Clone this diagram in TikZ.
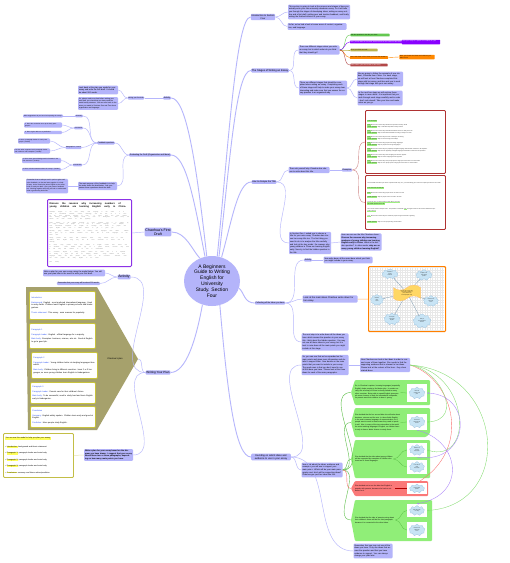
\documentclass[tikz,border=0pt]{standalone}
\usepackage{fontspec}
\setmainfont{Liberation Sans}
\usepackage{tikz}
\usetikzlibrary{positioning}
\usetikzlibrary{arrows.meta, shapes.geometric, shapes.symbols}
\setlength{\parindent}{0pt}
\definecolor{lav}{RGB}{180,180,250}
\definecolor{lavline}{RGB}{182,182,252}
\definecolor{stgreen}{RGB}{100,200,80}
\definecolor{stpurple}{RGB}{136,0,255}
\definecolor{stolive}{RGB}{185,180,80}
\definecolor{storange}{RGB}{255,136,0}
\definecolor{stred}{RGB}{178,72,72}
\definecolor{callgreen}{RGB}{144,238,120}
\definecolor{callline}{RGB}{90,190,70}
\definecolor{callred}{RGB}{250,120,120}
\definecolor{olivebg}{RGB}{166,161,108}
\definecolor{olivebd}{RGB}{200,195,60}
\definecolor{redbd}{RGB}{175,50,50}
\definecolor{purplebd}{RGB}{140,50,230}
\definecolor{orangebd}{RGB}{255,128,0}
\definecolor{yellowbd}{RGB}{195,190,70}
\definecolor{hlgreen}{RGB}{160,240,130}
\definecolor{hlyellow}{RGB}{255,255,90}
\definecolor{cloudfill}{RGB}{200,228,245}
\definecolor{cloudline}{RGB}{150,190,220}
\definecolor{blobyellow}{RGB}{255,215,100}
\definecolor{gridgrey}{RGB}{232,232,232}
\definecolor{plantext}{RGB}{40,80,240}
\definecolor{essaygrey}{RGB}{110,110,110}
\definecolor{relred}{RGB}{250,110,110}
\definecolor{relgreen}{RGB}{130,220,110}
\definecolor{relpurple}{RGB}{170,130,250}
\newcommand\mmmicro{\fontsize{1.1}{1.4}\selectfont}
\newcommand\mmtiny{\fontsize{1.5}{2}\selectfont}
\newcommand\mmsmall{\fontsize{2}{2.7}\selectfont}
\newcommand\mmmid{\fontsize{2.6}{3.2}\selectfont}
\newcommand\mmbig{\fontsize{3.6}{4.3}\selectfont}
\newcommand\mmroot{\fontsize{5}{5.9}\selectfont}
\newcommand\hlg[1]{{\setlength{\fboxsep}{0.25pt}\colorbox{hlgreen}{#1}}}
\newcommand\hly[1]{{\setlength{\fboxsep}{0.25pt}\colorbox{hlyellow}{#1}}}
\newcommand\plabel[1]{{\color{plantext}#1}}
\tikzset{
  topic/.style={fill=lav, rounded corners=1pt, inner sep=0.8pt, align=center, font=\mmsmall},
  leaf/.style={topic, align=left, inner sep=1pt},
  rootnode/.style={ellipse, fill=lav, minimum width=56pt, minimum height=50pt, inner sep=0pt, align=center, font=\mmroot},
  rootlink/.style={draw=lavline, line width=0.9pt},
  sublink/.style={draw=lavline, line width=0.45pt},
  stagenode/.style={rounded corners=0.6pt, inner sep=0.7pt, align=left, font=\mmtiny},
  boxframe/.style={fill=white, line width=0.9pt, rounded corners=1pt, anchor=north west, inner sep=2pt, align=left},
  imgbox/.style={fill=white, inner sep=0pt},
  cloudy/.style={cloud, cloud puffs=9, cloud ignores aspect, fill=cloudfill, draw=cloudline, line width=0.2pt, inner sep=0pt, font=\mmmicro, align=center},
  calltext/.style={anchor=west, inner sep=0pt, text width=45pt, align=left, font=\fontsize{1.75}{2.4}\selectfont},
  rel/.style={line width=0.35pt, -{Stealth[length=1.6pt,width=1.6pt]}},
}

\begin{document}
\begin{tikzpicture}[x=1pt, y=-1pt]
    \fill[white] (0,0) rectangle (510,563);
    \useasboundingbox (0,0) rectangle (510,563);

    % central topic
    \node[rootnode] (root) at (212,281) {A Beginners\\Guide to Writing\\English for\\University\\Study. Section\\Four};

    % ---------- right side ----------
    % introduction branch
    \node[topic, font=\fontsize{2.3}{2.8}\selectfont] (intro) at (263,17) {Introduction to Section\\Four};
    \node[leaf, text width=60pt] (introA) at (319,12) {This section is going to look at the process and stages of how you actually write your own university academic essay. So it will take you through the stages of developing ideas, writing an essay outline and a first draft, getting peer and teacher feedback, and finally writing the finished version of your essay.};
    \node[leaf, text width=57pt] (introB) at (317,26.5) {So far, we've had a look at some areas of content, organisation, and language.};

    % stages branch
    \node[topic, font=\mmmid] (stages) at (270,70.5) {The Stages of Writing an Essay};
    \node[leaf, text width=39pt] (stA) at (319,50) {There are different stages when you write an essay, but in which order do you think that they should go?};
    \node[stagenode, fill=stgreen, text width=38pt] (sgreen) at (370,35) {Ask the questions in the title you chose};
    \node[stagenode, fill=stpurple, text=white, text width=55pt] (spurple) at (378,42) {Next, you will write the first draft, which focuses on the content of the essay.};
    \node[stagenode, fill=stpurple, text=white, text width=37pt] (spurple2) at (421,42) {Give your essay to a partner for feedback on your draft.};
    \node[stagenode, fill=stolive, text width=26pt] (solive) at (364,50) {Then you finish and edit.};
    \node[stagenode, fill=storange, text width=37pt] (sorange) at (369,57.5) {Next, write down all the ideas you have that answer it.};
    \node[stagenode, fill=storange, text width=34pt] (sorange2) at (417,57) {Next, you choose the ideas and evidence you want to use.};
    \node[stagenode, fill=stred, text=white, text width=36pt] (sred) at (369,65) {Last, hand in your final version of the essay.};
    \node[leaf, text width=46pt] (stB) at (323,88) {There are different stages that should be completed when writing an essay. Completing each of these stages will help to make your essay clear, interesting and make sure that you answer the essay question in an organised way.};
    \node[leaf, text width=44pt] (stB1) at (380,79) {We are going to follow the example of one student, Chaohua from China. For each stage, we will look at how Chaohua completed this stage with her essay, and then ask you to work through that stage with your own essay.};
    \node[leaf, text width=43pt] (stB2) at (380,98) {In the next few steps we will explore these stages in more detail. It is important that you work through each stage carefully and in order - don't rush ahead! Take your time and make notes as you go.};

    % analysing the title branch
    \node[topic, font=\fontsize{2.2}{2.7}\selectfont] (analyse) at (264,182) {How to Analyse the Title};
    \node[leaf, text width=39pt] (anC) at (309,170) {Then ask yourself why Chaohua has chosen to write about this title.};
    \node[topic] (examples) at (347,170) {Examples};
    \node[boxframe, draw=redbd, text width=76pt, minimum height=63pt, font=\fontsize{1.25}{1.8}\selectfont] (exbox1) at (365,110) {\hlg{Some Examples}\par\vspace{2.4pt}
      \hlg{Title:} Discuss the reasons why education is important in today's world.\par
      \hlg{Hidden question:} Why is education important in today's world?\par\vspace{2.4pt}
      \hlg{Title:} Discuss the reasons why international students choose to study in the UK.\par
      \hlg{Hidden question:} Why are international students choosing to study in the UK?\par\vspace{2.4pt}
      \hlg{Title:} Discuss the reasons why the level of obesity is increasing.\par
      \hlg{Hidden question:} Why are we becoming less healthy?\par\vspace{2.4pt}
      \hlg{Title:} Discuss the reasons why people learn foreign languages.\par
      \hlg{Hidden question:} Why do people learn foreign languages?\par\vspace{2.4pt}
      \hlg{Title:} Discuss the reasons why the popularity of English language and literature continues to be important.\par
      \hlg{Hidden question:} Why does the popularity of English language and literature continue to be important?\par\vspace{2.4pt}
      \hlg{Title:} Discuss the reasons why online shopping has become popular.\par
      \hlg{Hidden question:} Why has online shopping become popular?\par\vspace{2.4pt}
      \hlg{Title:} Discuss the reasons why some people spend a large part of their time on social media.\par
      \hlg{Hidden question:} Why do some people spend a large part of their time on social media?};
    \node[boxframe, draw=redbd, text width=76pt, minimum height=54pt, font=\fontsize{1.25}{1.8}\selectfont] (exbox2) at (365,175) {Just remember that when you answer a question with `why' in it, you must always give reasons to explain your ideas to the reader.\par\vspace{3.5pt}
      \hlg{Let's look at the second pair:}\par\vspace{3.5pt}
      \hlg{Title:} Discuss the reasons why people choose to work in the UK.\par\vspace{2pt}
      \hlg{Hidden question:} Why do people choose to work in the UK?\par\vspace{3.5pt}
      \hlg{So we can see, it is much easier to write when you know}\par
      \hlg{the hidden question in the title.}\par\vspace{3.5pt}
      Let's look at another example of this. The question is made with \hlg{why} and again it asks for the reasons behind the topic: \hlg{Some reasons}\par\vspace{3.5pt}
      \hlg{Title:} Discuss the reasons why the number of people using social media is growing.\par\vspace{3.5pt}
      \hlg{Hidden question:} Why are more people using social media?};
    \node[leaf, text width=40pt] (anD) at (310,243) {In Section One, I asked you to choose a title for your own essay. Chaohua has chosen her essay title too. The first thing you need to do is to analyse the title carefully and look at the key words: the reasons why young children in China are learning English early. Now try to find the hidden question in the title.};
    \node[leaf, text width=39pt] (anD1) at (361,242) {Here we can see the title Chaohua chose: \textbf{Discuss the reasons why increasing numbers of young children are learning English early in China.} What is the hidden question? In other words, \textbf{why are so many young children learning English?}};

    % collecting ideas branch
    \node[topic] (collect) at (270,303) {Collecting all the Ideas you have};
    \node[topic] (cAct) at (308,260) {Activity};
    \node[leaf, text width=47pt] (cAct1) at (348,260) {Now write down all the main ideas which you think you might include in your essay.};
    \node[leaf, text width=53pt, font=\fontsize{2.3}{2.9}\selectfont] (cLook) at (330,299) {Look at the main ideas Chaohua wrote down for her essay.};
    \node[leaf, text width=45pt] (cThird) at (325,342) {The next step is to write down all the ideas you have which answer the question in your essay title - think about the hidden question. You may not use all these ideas in your essay, but it is best to note down all the main points you might include at this stage.};
    \node[boxframe, draw=orangebd, line width=1.1pt, minimum width=77pt, minimum height=65pt, inner sep=0pt] (mapbox) at (368,266) {};
    \draw[gridgrey, line width=0.15pt, step=2.5pt] (369.5,267.5) grid (444,330);
    \node[tape, fill=blobyellow, draw=orange!60, line width=0.2pt, minimum width=27pt, minimum height=13pt, inner sep=0.3pt, font=\mmmicro, align=center] (blob) at (407,293) {Discuss the reasons why\\increasing numbers of\\young children are\\learning English early};
    \node[cloudy, minimum width=16pt, minimum height=10pt] (mc1) at (390,274) {English is\\used in\\business};
    \node[cloudy, minimum width=16pt, minimum height=11pt] (mc2) at (424,275) {English is the\\most widely\\spoken};
    \node[cloudy, minimum width=13pt, minimum height=11pt] (mc3) at (377,300) {Children\\learn\\faster};
    \node[cloudy, minimum width=15pt, minimum height=11pt] (mc4) at (431,301) {Parents care\\about the\\future};
    \node[cloudy, minimum width=16pt, minimum height=12pt] (mc5) at (392,319) {Good jobs\\need good\\English};
    \node[cloudy, minimum width=18pt, minimum height=14pt] (mc6) at (422,321) {Study in\\top universities\\abroad};
    \foreach \c in {mc1,mc2,mc3,mc4,mc5,mc6}
      \draw[cloudline!80!black, line width=0.25pt, -{Stealth[length=1.2pt,width=1.2pt]}] (blob) -- (\c);

    % deciding branch
    \node[topic, text width=38pt, font=\fontsize{2.4}{2.9}\selectfont] (decide) at (271,457) {Deciding on which ideas and evidence to use in your essay};
    \node[leaf, text width=45pt] (dE) at (325,365) {So, you can see that we've expanded on the main points and given more information and details to support them. Now decide on the main points that you want to include in your essay. The good news is that you don't need to use all the ideas you have. Please look at the three ideas for each of the main paragraphs.};
    \node[leaf, text width=48pt] (dE1) at (385,365) {Now Chaohua can look at her ideas in order to connect some of them together. She needs to find the supporting evidence that is relevant to her ideas. Please look at the colours of the lines - they show related ideas.};
    \node[leaf, text width=39pt] (dF) at (322,470) {Now think about the ideas, evidence and examples you will use to support your main points. Which will be your main paragraphs and which will be supporting ideas? Chaohua grouped her ideas like this.};
    \node[leaf, text width=37pt] (dLast) at (373,551) {Remember that you may not use all the ideas you have. Only use ideas that answer the question and that you have evidence to support. You can always change your plan later.};

    % grouped ideas
    \fill[callgreen, rounded corners=1pt] (355,380) -- (430,380) -- (430,405) -- (355,405) -- (351,392.5) -- cycle;
    \coordinate (g1) at (351,392.5);
    \node[calltext] (g1t) at (355,392.5) {So, in Chaohua's opinion, knowing languages (especially English) helps people to find better jobs. In modern society, the economy of China is closely linked to many other countries. Being able to speak English gives people more chances to work for international companies, so parents want their children to learn it young.};
    \node[imgbox, minimum width=20pt, minimum height=18pt] (g1i) at (417,393) {};
    \node[cloudy, minimum width=16pt, minimum height=12pt] at (g1i) {Useful for\\getting good\\jobs};
    \draw[callline, line width=0.3pt] (g1t.east) -- (g1i.west);

    \fill[callgreen, rounded corners=1pt] (355,408) -- (430,408) -- (430,433) -- (426,437) -- (355,437) -- (351,422.5) -- cycle;
    \coordinate (g2) at (351,422.5);
    \node[calltext] (g2t) at (355,422.5) {She decided that for her second idea she will write about business, science and the arts. In these fields English is the most common language of communication, so if people want to work in these areas they need to speak it well. Also, in many of the top universities in the world the main teaching language is English, so children learn it early to have a better chance to study there.};
    \node[imgbox, minimum width=20pt, minimum height=16pt] (g2i) at (417,422) {};
    \node[cloudy, minimum width=16pt, minimum height=12pt] at (g2i) {Common in\\business and\\science};
    \draw[callline, line width=0.3pt] (g2t.east) -- (g2i.west);

    \fill[callgreen, rounded corners=1pt] (355,440) -- (430,440) -- (430,478) -- (355,478) -- (351,459) -- cycle;
    \coordinate (g3) at (351,459);
    \node[calltext, text width=38pt] (g3t) at (355,459) {She decided that her idea about young children will be supported by examples of children who learn two or three languages.};
    \node[imgbox, minimum width=20pt, minimum height=14pt] (g3a) at (417,450) {};
    \node[cloudy, minimum width=15pt, minimum height=11pt] at (g3a) {Children are\\good at\\languages};
    \node[imgbox, minimum width=20pt, minimum height=14pt] (g3b) at (417,467) {};
    \node[cloudy, minimum width=15pt, minimum height=11pt] at (g3b) {Learn two or\\three\\languages};
    \draw[callline, line width=0.3pt] (g3t.east) to[out=0,in=180] (g3a.west);
    \draw[callline, line width=0.3pt] (g3t.east) to[out=0,in=180] (g3b.west);

    \fill[callred, rounded corners=1pt] (355,481) -- (428,481) -- (428,496) -- (355,496) -- (351,488.5) -- cycle;
    \coordinate (g4) at (351,488.5);
    \node[calltext, text width=40pt] (g4t) at (355,488.5) {She decided not to use the idea that English is popular with parents, because she had no evidence for it.};
    \node[imgbox, minimum width=20pt, minimum height=11pt] (g4i) at (417,488.5) {};
    \node[cloudy, minimum width=15pt, minimum height=9pt] at (g4i) {Popular with\\parents};
    \draw[red!70!black, line width=0.3pt] (g4t.east) -- (g4i.west);

    \fill[callgreen, rounded corners=1pt] (355,500) -- (432,500) -- (432,541) -- (355,541) -- (351,520) -- cycle;
    \coordinate (g5) at (351,520);
    \node[calltext, text width=40pt] (g5t) at (355,520) {She decided that the idea of parents caring about their children's future will be her third paragraph, because it is connected to the other ideas.};
    \node[imgbox, minimum width=20pt, minimum height=13pt] (g5a) at (417,510.5) {};
    \node[cloudy, minimum width=15pt, minimum height=10pt] at (g5a) {Main language\\for study};
    \node[imgbox, minimum width=20pt, minimum height=16pt] (g5b) at (417,530) {};
    \node[cloudy, minimum width=16pt, minimum height=12pt] at (g5b) {Parents care\\about their\\future};
    \draw[callline, line width=0.3pt] (g5t.east) to[out=0,in=180] (g5a.west);
    \draw[callline, line width=0.3pt] (g5t.east) to[out=0,in=180] (g5b.west);

    % links between related ideas
    \draw[rel, relred] (dE1.east) .. controls (455,380) and (472,450) .. (g4i.north);
    \draw[rel, relgreen] (dE1.east) .. controls (440,370) and (465,420) .. (g2i.east);
    \draw[rel, relgreen] (dE1.east) .. controls (505,372) and (515,505) .. (g5a.east);
    \draw[rel, relgreen] (dE1.east) .. controls (470,372) and (475,465) .. (g3a.east);
    \draw[rel, relpurple] (g3a.south) .. controls (470,465) and (475,395) .. (g1i.east);
    \draw[rel, relpurple] (g2i.south) .. controls (460,440) and (468,495) .. (g5a.north);

    % ---------- left side ----------
    % first draft activity
    \node[topic] (act1) at (167,98) {Activity};
    \node[topic, font=\fontsize{1.6}{2}\selectfont] (draft) at (136,98) {Writing your first draft};
    \node[leaf, text width=38pt] (draft1) at (98,90) {Look back at the plan you made for your essay and write the first draft. It should be about 500 words.};
    \node[leaf, text width=38pt, font=\fontsize{1.7}{2.3}\selectfont] (draft2) at (98,103.5) {So, please make sure that before writing your own draft, you check that you have used the model essay structure. You can refer back to the notes you made in Sections One and Two about organisation and language.};

    % evaluating the draft
    \node[topic] (evald) at (150,155) {Evaluating the Draft (Organisation and Ideas)};
    \node[topic, font=\fontsize{1.8}{2.3}\selectfont] (fq) at (106,143) {Feedback questions};
    \node[topic, font=\mmtiny] (summ) at (79,116) {Summary};
    \node[leaf, text width=38pt, font=\mmtiny] (summ1) at (43,116) {What suggestions do you have for improving the essay?};
    \node[topic, font=\mmtiny] (concl) at (78.5,128) {Conclusion};
    \node[leaf, text width=36pt, font=\mmtiny] (c1) at (43,125) {1. Does the conclusion sum up the body paragraphs?};
    \node[leaf, text width=36pt, font=\mmtiny] (c2) at (43,132.5) {2. Does it give advice or a prediction?};
    \node[topic, font=\mmtiny] (para) at (73.5,147.5) {Paragraphs 1, 2 and 3};
    \node[leaf, text width=30pt, font=\mmtiny] (p1) at (34,141) {Is there a paragraph leader for each paragraph? (Yes/No)};
    \node[leaf, text width=34pt, font=\mmtiny] (p2) at (32,151) {Has the writer supported each paragraph leader with evidence and examples? (Yes/No)};
    \node[topic, font=\mmtiny] (intro2) at (77.5,165) {Introduction};
    \node[leaf, text width=37pt, font=\mmtiny] (i1) at (41.5,160.5) {Is there some general background information in the first sentence? (Yes/No)};
    \node[leaf, text width=37pt, font=\mmtiny] (i2) at (41.5,169.5) {Is there a thesis statement about the essay? (Yes/No)};
    \node[leaf, text width=37pt, font=\fontsize{1.8}{2.4}\selectfont] (fbp) at (97.5,186) {The main purpose of the feedback is to help the writer make the draft better. Ask your partner these questions about the draft.};
    \node[leaf, text width=40pt, font=\fontsize{1.6}{2.2}\selectfont] (fbp1) at (47,186) {Remember that we always work in pairs to give each other feedback, so that we learn together in a helpful way. Ask a friend who writes English at the same level to read your draft. Give your partner feedback too. Working together will help you both to understand what a good essay looks like.};

    % Chaohua's first draft
    \node[topic, font=\mmbig] (fdraft) at (158,232) {Chaohua's First\\Draft};
    \node[boxframe, draw=purplebd, line width=1pt, text width=80pt, minimum height=67pt] (essaybox) at (47,199) {{\fontsize{2.4}{2.9}\selectfont\bfseries\rightskip=0pt plus 1fil Discuss the reasons why increasing numbers of young children are learning English early in China.\par}\vspace{3pt}
      {\color{essaygrey}\fontsize{1.2}{1.8}\selectfont
      Nowadays English is the most widely used language in the world. It is used in international business, science, technology and the arts, so it is seen as the most important language to learn. In China, more and more children start learning English at primary school or even in kindergarten. This essay will discuss the main reasons for this popularity.\par\vspace{1.6pt}
      Firstly, English is the official language in many countries and it is spoken by a large number of people as a first or second language. For example, most international companies use English for meetings and emails, so people who speak English well have a better chance to get a good job.\par\vspace{1.6pt}
      Secondly, young children are better at learning new languages than adults. Children who grow up in different countries can learn two or three languages at the same time.\par\vspace{1.6pt}
      Thirdly, parents care about their children's future. They believe that if their children learn English early, they will be more successful at school and at university.\par\vspace{1.6pt}
      In China, many parents send their children to English classes after school and at weekends. Some families even pay for a private teacher, because they think it will help their children to do well in examinations.\par\vspace{1.6pt}
      In conclusion, English is widely spoken around the world and it is important for finding a good job and for studying abroad. Young children can learn languages easily and their parents want them to be successful. Therefore, more and more people will study English in the future.\par\vspace{2.5pt}
      (301 words)\par}};

    % writing your plan
    \node[topic, font=\fontsize{3}{3.6}\selectfont] (wplan) at (158,372.5) {Writing Your Plan};
    \node[topic, font=\mmbig] (act2) at (124,277) {Activity};
    \node[leaf, text width=60pt] (act2a) at (74,273) {Write a plan for your own essay using the model below. You will use your plan later in the week to write your first draft.};
    \node[topic, font=\fontsize{1.8}{2.3}\selectfont] (act2b) at (78.5,283.5) {Remember that your essay will be about 500 words.};

    % Chaohua's plan
    \fill[olivebg] (26,287) -- (97,287) -- (138,359) -- (97,430) -- (28,430) -- cycle;
    \coordinate (ptip) at (138,359);
    \node[font=\fontsize{2.2}{2.7}\selectfont] (cplan) at (115,359) {Chaohua's plan};
    \node[boxframe, draw=olivebd, text width=62pt, minimum height=28pt, font=\fontsize{2}{2.9}\selectfont] (plan1) at (29,291) {\plabel{Introduction}\par\vspace{2pt}
      \plabel{Background:} English - most preferred international language. Used in many fields. Children learn English in primary schools and kindergartens.\par\vspace{2pt}
      \plabel{Thesis statement:} This essay - main reasons for popularity.};
    \node[boxframe, draw=olivebd, text width=62pt, minimum height=25pt, font=\fontsize{2}{2.9}\selectfont] (plan2) at (29,323) {\plabel{Paragraph 1}\par\vspace{2pt}
      \plabel{Paragraph leader:} English - official language for a majority.\par\vspace{2pt}
      \plabel{Main body:} Examples: business, science, arts etc. Good at English to get a good job.};
    \node[boxframe, draw=olivebd, text width=62pt, minimum height=26pt, font=\fontsize{2}{2.9}\selectfont] (plan3) at (31,352) {\plabel{Paragraph 2}\par\vspace{2pt}
      \plabel{Paragraph leader:} Young children better at studying languages than adults.\par\vspace{2pt}
      \plabel{Main body:} Children living in different countries - learn 2 or 3 languages, so more young children learn English in kindergartens.};
    \node[boxframe, draw=olivebd, text width=61pt, minimum height=21pt, font=\fontsize{2}{2.9}\selectfont] (plan4) at (30,382) {\plabel{Paragraph 3}\par\vspace{2pt}
      \plabel{Paragraph leader:} Parents care for their children's future.\par\vspace{2pt}
      \plabel{Main body:} To be successful, need to study hard and learn English early in kindergarten.};
    \node[boxframe, draw=olivebd, text width=61pt, minimum height=21pt, font=\fontsize{2}{2.9}\selectfont] (plan5) at (30,406) {\plabel{Conclusion}\par\vspace{2pt}
      \plabel{Summary:} English widely spoken. Children learn early and good at English.\par\vspace{2pt}
      \plabel{Prediction:} More people study English.};

    % write your plan
    \node[leaf, text width=47pt, font=\fontsize{2}{2.7}\selectfont\bfseries] (wp1) at (108.5,455) {Write a plan for your essay based on the diagram you have drawn. I suggest that your essay should have two or three paragraphs, depending on how many main points you have.};
    \node[boxframe, draw=yellowbd, text width=66pt, minimum height=44pt, font=\fontsize{1.9}{2.6}\selectfont] (modelbox) at (3,433) {\hly{You can use this model to help you plan your essay:}\par\vspace{6pt}
      \textbullet\ \hly{Introduction:} background and thesis statement\par\vspace{3.8pt}
      \textbullet\ \hly{Paragraph 1:} paragraph leader and main body\par\vspace{3.8pt}
      \textbullet\ \hly{Paragraph 2:} paragraph leader and main body\par\vspace{3.8pt}
      \textbullet\ \hly{Paragraph 3:} paragraph leader and main body\par\vspace{3.8pt}
      \textbullet\ \hly{Conclusion:} summary and future advice/prediction};

    % ---------- connectors ----------
    % from the central topic
    \draw[rootlink] (root.78) .. controls (228,150) and (236,17) .. (intro.west);
    \draw[rootlink] (root.74) .. controls (230,160) and (236,70.5) .. (stages.west);
    \draw[rootlink] (root.68) .. controls (232,220) and (238,182) .. (analyse.west);
    \draw[rootlink] (root.-15) .. controls (244,292) and (244,303) .. (collect.west);
    \draw[rootlink] (root.-72) .. controls (228,400) and (236,457) .. (decide.west);
    \draw[rootlink] (root.102) .. controls (196,160) and (186,98) .. (act1.east);
    \draw[rootlink] (root.106) .. controls (194,200) and (186,155) .. (evald.east);
    \draw[rootlink] (root.118) .. controls (192,250) and (186,232) .. (fdraft.east);
    \draw[rootlink] (root.-112) .. controls (196,340) and (186,372.5) .. (wplan.east);

    % right side sub-topics
    \draw[sublink] (intro.east) to[out=0,in=180] (introA.west);
    \draw[sublink] (intro.east) to[out=0,in=180] (introB.west);
    \draw[sublink] (stages.east) to[out=0,in=180] (stA.west);
    \draw[sublink] (stages.east) to[out=0,in=180] (stB.west);
    \draw[stgreen, line width=0.4pt] (stA.east) to[out=0,in=180] (sgreen.west);
    \draw[stpurple, line width=0.4pt] (stA.east) to[out=0,in=180] (spurple.west);
    \draw[stolive, line width=0.4pt] (stA.east) to[out=0,in=180] (solive.west);
    \draw[storange, line width=0.4pt] (stA.east) to[out=0,in=180] (sorange.west);
    \draw[stred, line width=0.4pt] (stA.east) to[out=0,in=180] (sred.west);
    \draw[stpurple, line width=0.4pt] (spurple.east) -- (spurple2.west);
    \draw[storange, line width=0.4pt] (sorange.east) -- (sorange2.west);
    \draw[sublink] (stB.east) to[out=0,in=180] (stB1.west);
    \draw[sublink] (stB.east) to[out=0,in=180] (stB2.west);
    \draw[sublink] (analyse.east) to[out=0,in=180] (anC.west);
    \draw[sublink] (analyse.east) to[out=0,in=180] (anD.west);
    \draw[sublink] (anC.east) -- (examples.west);
    \draw[redbd!60, line width=0.4pt] (examples.east) to[out=0,in=180] (exbox1.west);
    \draw[redbd!60, line width=0.4pt] (examples.east) to[out=0,in=180] (exbox2.west);
    \draw[sublink] (anD.east) -- (anD1.west);
    \draw[sublink] (collect.east) to[out=0,in=180] (cAct.west);
    \draw[sublink] (collect.east) to[out=0,in=180] (cLook.west);
    \draw[sublink] (collect.east) to[out=0,in=180] (cThird.west);
    \draw[sublink] (cAct.east) -- (cAct1.west);
    \draw[orangebd!60, line width=0.5pt] (cLook.east) -- (mapbox.west);
    \draw[sublink] (decide.east) to[out=0,in=180] (dE.west);
    \draw[sublink] (decide.east) to[out=0,in=180] (dF.west);
    \draw[sublink] (decide.east) to[out=0,in=180] (dLast.west);
    \draw[sublink] (dE.east) -- (dE1.west);
    \foreach \g in {g1,g2,g3,g5}
      \draw[callline, line width=0.4pt] (dF.east) to[out=0,in=180] (\g);
    \draw[relred, line width=0.4pt] (dF.east) to[out=0,in=180] (g4);

    % left side sub-topics
    \draw[sublink] (act1.west) -- (draft.east);
    \draw[sublink] (draft.west) to[out=180,in=0] (draft1.east);
    \draw[sublink] (draft.west) to[out=180,in=0] (draft2.east);
    \draw[sublink] (evald.west) to[out=180,in=0] (fq.east);
    \draw[sublink] (evald.west) to[out=180,in=0] (fbp.east);
    \draw[sublink] (fq.west) to[out=180,in=0] (summ.east);
    \draw[sublink] (fq.west) to[out=180,in=0] (concl.east);
    \draw[sublink] (fq.west) to[out=180,in=0] (para.east);
    \draw[sublink] (fq.west) to[out=180,in=0] (intro2.east);
    \draw[sublink] (summ.west) -- (summ1.east);
    \draw[sublink] (concl.west) to[out=180,in=0] (c1.east);
    \draw[sublink] (concl.west) to[out=180,in=0] (c2.east);
    \draw[sublink] (para.west) to[out=180,in=0] (p1.east);
    \draw[sublink] (para.west) to[out=180,in=0] (p2.east);
    \draw[sublink] (intro2.west) to[out=180,in=0] (i1.east);
    \draw[sublink] (intro2.west) to[out=180,in=0] (i2.east);
    \draw[sublink] (fbp.west) -- (fbp1.east);
    \draw[sublink] (fdraft.west) -- (essaybox.east);
    \draw[sublink] (wplan.west) to[out=180,in=0] (act2.east);
    \draw[sublink] (wplan.west) to[out=180,in=0] (ptip);
    \draw[sublink] (wplan.west) to[out=180,in=0] (wp1.east);
    \draw[sublink] (act2.west) to[out=180,in=0] (act2a.east);
    \draw[sublink] (act2.west) to[out=180,in=0] (act2b.east);
    \draw[yellowbd!40, line width=0.5pt] (wp1.west) -- (modelbox.east);
\end{tikzpicture}
\end{document}
